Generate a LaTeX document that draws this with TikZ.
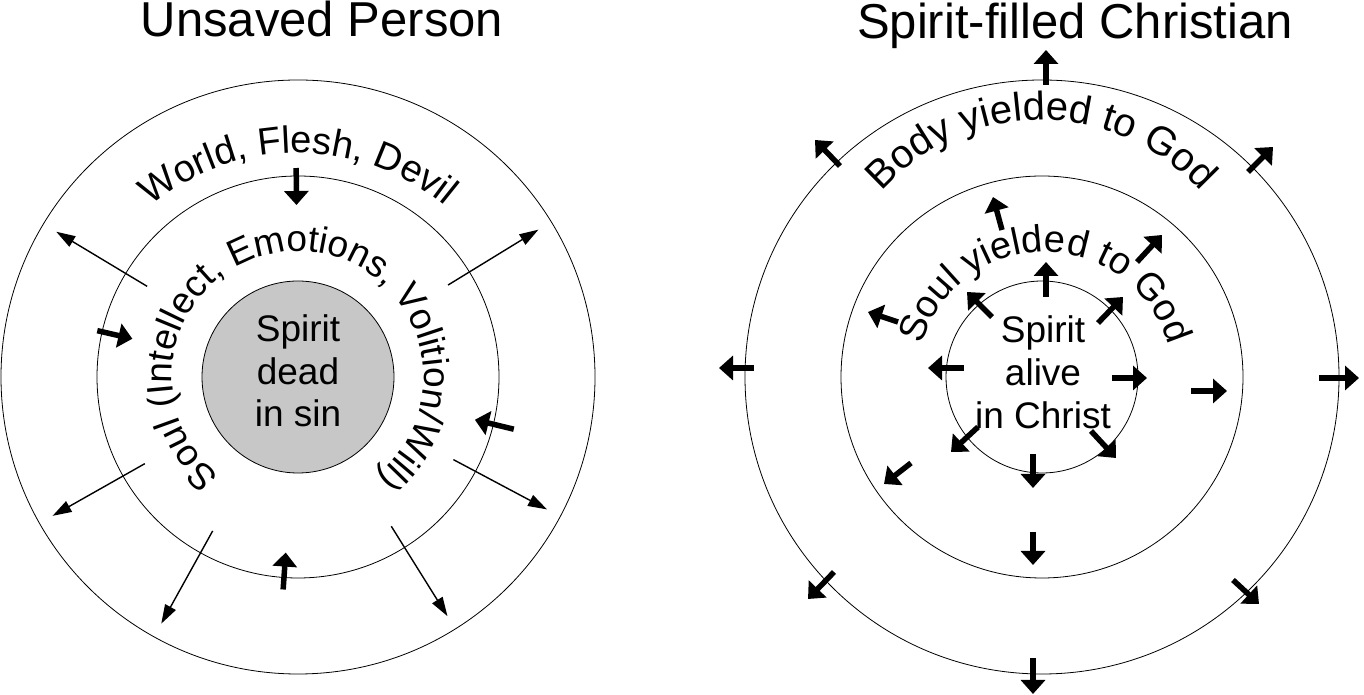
\documentclass[tikz,border=0pt]{standalone}
\usepackage{fontspec}
\setmainfont{Liberation Sans}
\usetikzlibrary{arrows.meta,decorations.text}

\tikzset{
  ring/.style={line width=0.8pt},
  thinarr/.style={line width=1.4pt,-{Triangle[length=19pt,width=12pt]}},
  thickarr/.style={line width=5.5pt,-{Triangle[length=14pt,width=24pt]}},
}

\begin{document}
\begin{tikzpicture}[x=1pt,y=1pt]
  \useasboundingbox (0,0) rectangle (1364,695);
  \coordinate (L) at (298,318);
  \coordinate (Lt) at (298,312);
  \coordinate (R) at (1042,318);
  \coordinate (Rt) at (1041,361);
  \coordinate (Rs) at (1045,315);
  % titles
  \node[anchor=base,font=\fontsize{49}{55}\selectfont] (tl) at (322,658) {Unsaved Person};
  \node[anchor=base,font=\fontsize{49}{55}\selectfont] (tr) at (1075,656) {Spirit-filled Christian};

  % unsaved person
  \fill[black!22] (L) circle(96);
  \draw[ring] (L) circle(96);
  \draw[ring] (L) circle(201);
  \draw[ring] (L) circle(297);
  \node[align=center,font=\fontsize{37}{42.5}\selectfont] (sl) at (298,324) {Spirit\\dead\\in sin};
  \path[decorate,decoration={text along path,text align=center,
    text={|\fontsize{38}{42}\selectfont|World, Flesh, Devil}}]
    (Lt) ++(170:230) arc[start angle=170,end angle=10,radius=230];
  \path[decorate,decoration={text along path,text align=center,
    text={|\fontsize{37}{42}\selectfont|Soul (Intellect, Emotions, Volition/Will)}}]
    (L) ++(240:126) arc[start angle=240,end angle=-60,radius=126];
  \begin{scope}[shift={(L)}]
    \draw[thinarr] (149:176) -- (149:282);
    \draw[thinarr] (31.5:176) -- (31.5:282);
    \draw[thinarr] (209.5:176) -- (209.5:282);
    \draw[thinarr] (-28:176) -- (-28:282);
    \draw[thinarr] (241:176) -- (241:282);
    \draw[thinarr] (-58:176) -- (-58:282);
    \draw[thickarr] (90.5:209) -- (90.5:172);
    \draw[thickarr] (167:206) -- (167:170);
    \draw[thickarr] (-13.6:222) -- (-13.6:182);
    \draw[thickarr] (266:213) -- (266:176);
  \end{scope}

  % spirit-filled christian
  \draw[ring] (R) circle(96);
  \draw[ring] (R) circle(201);
  \draw[ring] (R) circle(297);
  \node[align=center,font=\fontsize{37}{43}\selectfont] (sr) at (1043,323) {Spirit\\alive\\in Christ};
  \path[decorate,decoration={text along path,text align=center,
    text={|\fontsize{40}{44}\selectfont|Body yielded to God}}]
    (Rt) ++(170:214) arc[start angle=170,end angle=10,radius=214];
  \path[decorate,decoration={text along path,text align=center,
    text={|\fontsize{38}{42}\selectfont|Soul yielded to God}}]
    (Rs) ++(200:128) arc[start angle=200,end angle=-20,radius=128];
  % outer ring
  \draw[thickarr] (1046,610) -- (1046,645);
  \draw[thickarr] (840,529) -- (815,555);
  \draw[thickarr] (1248,523) -- (1273,548);
  \draw[thickarr] (754,327) -- (719,327);
  \draw[thickarr] (1319,317) -- (1359,317);
  \draw[thickarr] (834,123) -- (808,96);
  \draw[thickarr] (1233,115) -- (1259,91);
  \draw[thickarr] (1033,37) -- (1033,1);
  % middle ring
  \draw[thickarr] (1002,465) -- (993,498);
  \draw[thickarr] (1137,433) -- (1162,460);
  \draw[thickarr] (898,373) -- (868,383);
  \draw[thickarr] (1191,304) -- (1227,304);
  \draw[thickarr] (911,232) -- (884,211);
  \draw[thickarr] (1033,163) -- (1033,130);
  % inner ring
  \draw[thickarr] (1046,398) -- (1046,433);
  \draw[thickarr] (992,378) -- (967,403);
  \draw[thickarr] (1098,372) -- (1123,398);
  \draw[thickarr] (964,327) -- (928,327);
  \draw[thickarr] (1112,317) -- (1147,317);
  \draw[thickarr] (978,268) -- (951,243);
  \draw[thickarr] (1091,264) -- (1116,237);
  \draw[thickarr] (1033,241) -- (1033,207);
\end{tikzpicture}
\end{document}
